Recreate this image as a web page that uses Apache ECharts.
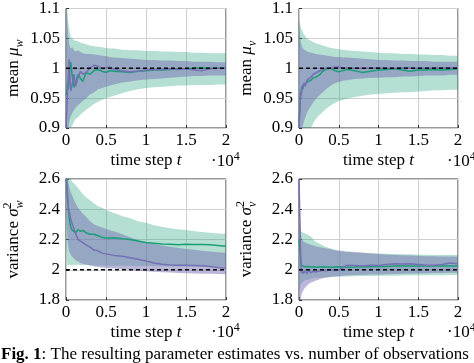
<!DOCTYPE html>
<html><head><meta charset="utf-8">
<script src="https://cdn.jsdelivr.net/npm/echarts@6.0.0/dist/echarts.min.js"></script>
<style>html,body{margin:0;padding:0;background:#fff;overflow:hidden}#c{width:474px;height:363px}</style>
</head><body><div id="c"></div>
<script>
// ---- data ----
const T = [0,100,200,300,400,500,600,800,1000,1200,1500,1800,2100,2500,3000,3500,4000,4500,5000,5500,6000,7000,8000,9000,10000,11000,12000,13000,14000,15000,16000,17000,18000,19000,20000];
const xTickVals = [0, 5000, 10000, 15000, 20000];
const meanTicks = [0.9, 0.95, 1, 1.05, 1.1];
const varTicks = [1.8, 2, 2.2, 2.4, 2.6];
const meanRef = 1, varRef = 2;

// mean mu_w
const muW_green   = [0.955,0.96,0.975,0.965,0.985,1.005,1.01,0.985,0.968,0.975,0.99,0.983,0.978,0.992,0.99,0.996,0.998,0.995,0.993,0.996,0.995,0.994,0.993,0.995,0.996,0.997,0.997,0.998,0.999,0.999,1.0,1.001,1.0,1.0,1.0];
const muW_purple  = [0.9,0.93,0.965,0.99,1.015,0.985,0.962,0.975,0.99,0.97,0.985,0.995,0.99,0.993,1.0,1.005,1.003,0.999,1.001,1.002,0.998,0.996,0.994,0.995,0.997,0.998,0.998,0.999,0.998,0.999,0.997,0.996,0.999,1.0,1.0];
const muW_greenHi = [1.12,1.11,1.09,1.075,1.065,1.058,1.052,1.05,1.047,1.046,1.045,1.043,1.042,1.04,1.038,1.037,1.036,1.035,1.034,1.033,1.033,1.031,1.03,1.03,1.029,1.029,1.028,1.028,1.027,1.027,1.026,1.026,1.025,1.025,1.025];
const muW_greenLo = [0.85,0.86,0.87,0.88,0.89,0.895,0.9,0.905,0.91,0.915,0.918,0.922,0.926,0.93,0.935,0.94,0.944,0.947,0.95,0.952,0.954,0.958,0.962,0.965,0.967,0.968,0.969,0.97,0.971,0.971,0.972,0.972,0.972,0.973,0.973];
const muW_purpleHi = [1.12,1.1,1.07,1.05,1.04,1.035,1.033,1.035,1.03,1.028,1.03,1.027,1.025,1.024,1.024,1.023,1.022,1.021,1.02,1.019,1.018,1.017,1.016,1.015,1.014,1.014,1.013,1.013,1.012,1.012,1.011,1.011,1.011,1.01,1.01];
const muW_purpleLo = [0.85,0.87,0.89,0.9,0.91,0.915,0.92,0.925,0.93,0.934,0.938,0.942,0.945,0.95,0.956,0.96,0.965,0.967,0.969,0.971,0.973,0.976,0.978,0.98,0.981,0.982,0.983,0.984,0.985,0.986,0.987,0.987,0.988,0.988,0.988];

// mean mu_v
const muV_green   = [0.91,0.93,0.955,0.965,0.97,0.968,0.972,0.975,0.973,0.978,0.98,0.984,0.985,0.988,0.995,0.999,1.0,0.996,0.994,0.996,0.998,0.996,0.993,0.995,0.997,0.998,0.999,0.997,0.995,0.997,0.997,0.998,0.997,0.998,0.999];
const muV_purple  = [0.9,0.93,0.96,0.955,0.97,0.965,0.975,0.97,0.98,0.978,0.985,0.99,0.992,0.995,0.998,1.001,1.0,1.002,1.002,1.001,1.001,1.0,1.0,1.0,1.001,1.0,1.0,1.001,1.001,1.0,1.0,1.001,1.001,1.001,1.001];
const muV_greenHi = [1.08,1.075,1.07,1.066,1.063,1.06,1.057,1.054,1.05,1.048,1.046,1.044,1.042,1.04,1.038,1.036,1.034,1.033,1.032,1.031,1.03,1.029,1.028,1.027,1.026,1.025,1.025,1.024,1.024,1.023,1.023,1.022,1.022,1.021,1.021];
const muV_greenLo = [0.83,0.84,0.85,0.86,0.87,0.875,0.88,0.885,0.89,0.895,0.9,0.908,0.915,0.921,0.927,0.933,0.938,0.942,0.945,0.947,0.949,0.952,0.954,0.956,0.957,0.958,0.959,0.96,0.96,0.961,0.962,0.963,0.963,0.964,0.964];
const muV_purpleHi = [1.09,1.06,1.045,1.04,1.035,1.033,1.032,1.03,1.028,1.027,1.026,1.025,1.024,1.023,1.022,1.021,1.02,1.019,1.019,1.018,1.018,1.017,1.016,1.015,1.014,1.014,1.013,1.013,1.012,1.012,1.012,1.011,1.011,1.011,1.011];
const muV_purpleLo = [0.85,0.87,0.88,0.89,0.9,0.905,0.91,0.918,0.925,0.93,0.937,0.943,0.948,0.954,0.96,0.966,0.971,0.975,0.977,0.979,0.98,0.982,0.983,0.984,0.984,0.985,0.985,0.986,0.986,0.987,0.988,0.988,0.988,0.989,0.989];

// variance sigma_w^2
const sW_green   = [2.65,2.58,2.48,2.4,2.35,2.31,2.28,2.26,2.25,2.245,2.265,2.255,2.26,2.245,2.235,2.235,2.225,2.215,2.208,2.21,2.212,2.205,2.2,2.19,2.18,2.175,2.17,2.168,2.166,2.168,2.167,2.167,2.165,2.16,2.155];
const sW_purple  = [2.65,2.55,2.45,2.41,2.38,2.36,2.33,2.3,2.27,2.24,2.2,2.19,2.18,2.165,2.15,2.13,2.125,2.11,2.105,2.1,2.095,2.09,2.08,2.07,2.058,2.045,2.037,2.032,2.03,2.03,2.028,2.026,2.022,2.015,2.01];
const sW_greenHi = [2.7,2.68,2.65,2.63,2.62,2.61,2.6,2.58,2.57,2.56,2.54,2.52,2.5,2.48,2.46,2.44,2.42,2.41,2.395,2.385,2.375,2.355,2.34,2.32,2.31,2.295,2.285,2.275,2.268,2.262,2.255,2.25,2.245,2.24,2.238];
const sW_greenLo = [2.2,2.06,2.03,2.025,2.03,2.035,2.03,2.03,2.035,2.03,2.035,2.03,2.03,2.032,2.03,2.03,2.028,2.028,2.027,2.027,2.026,2.026,2.025,2.025,2.024,2.024,2.023,2.023,2.022,2.022,2.022,2.021,2.021,2.02,2.02];
const sW_purpleHi = [2.7,2.65,2.6,2.57,2.55,2.53,2.51,2.49,2.46,2.44,2.41,2.39,2.37,2.35,2.32,2.3,2.29,2.28,2.27,2.26,2.255,2.235,2.215,2.195,2.18,2.17,2.16,2.152,2.145,2.138,2.132,2.126,2.12,2.116,2.113];
const sW_purpleLo = [2.5,2.3,2.2,2.15,2.12,2.11,2.1,2.085,2.075,2.065,2.055,2.045,2.04,2.035,2.028,2.022,2.018,2.015,2.012,2.01,2.008,2.003,1.998,1.993,1.99,1.987,1.984,1.981,1.979,1.977,1.975,1.974,1.973,1.972,1.971];

// variance sigma_v^2
const sV_green   = [2.2,2.15,2.06,2.03,2.025,2.02,2.02,2.018,2.022,2.02,2.018,2.02,2.016,2.018,2.02,2.018,2.016,2.018,2.02,2.018,2.017,2.018,2.02,2.02,2.022,2.022,2.024,2.025,2.025,2.024,2.025,2.025,2.024,2.025,2.025];
const sV_purple  = [2.6,2.35,2.1,1.98,2.0,1.975,1.965,1.99,1.975,1.995,1.98,1.99,1.985,1.992,1.995,1.995,1.998,1.995,1.997,2.015,2.03,2.028,2.025,2.03,2.028,2.035,2.04,2.038,2.04,2.035,2.03,2.03,2.035,2.045,2.04];
const sV_greenHi = [2.3,2.27,2.26,2.25,2.25,2.245,2.245,2.24,2.235,2.23,2.22,2.2,2.185,2.175,2.16,2.148,2.14,2.13,2.124,2.12,2.117,2.114,2.112,2.11,2.108,2.106,2.104,2.103,2.102,2.1,2.099,2.098,2.098,2.097,2.097];
const sV_greenLo = [1.85,1.88,1.9,1.91,1.915,1.92,1.925,1.93,1.933,1.936,1.94,1.943,1.945,1.947,1.949,1.951,1.952,1.953,1.954,1.955,1.956,1.957,1.958,1.959,1.96,1.96,1.961,1.962,1.962,1.963,1.963,1.964,1.964,1.965,1.965];
const sV_purpleHi = [2.7,2.4,2.25,2.21,2.2,2.19,2.185,2.18,2.175,2.17,2.165,2.16,2.155,2.15,2.145,2.14,2.135,2.13,2.127,2.124,2.121,2.117,2.112,2.108,2.104,2.101,2.098,2.096,2.094,2.092,2.09,2.089,2.088,2.087,2.086];
const sV_purpleLo = [1.7,1.75,1.8,1.83,1.85,1.86,1.87,1.885,1.895,1.905,1.915,1.92,1.928,1.936,1.943,1.948,1.952,1.955,1.958,1.96,1.962,1.965,1.967,1.968,1.969,1.971,1.972,1.974,1.975,1.976,1.977,1.978,1.979,1.98,1.98];

// ---- chart ----
const FONT = 'Liberation Serif';
const GREEN = '#1b9e77', PURPLE = '#7570b3';
const GREEN_BAND = 'rgba(27,158,119,0.33)', PURPLE_BAND = 'rgba(117,112,179,0.5)';

const panels = [
  {grid:{left:66, top:7, width:160, height:121}, ticks:meanTicks, ref:meanRef,
   name:'{n|mean }{it|μ}{sub|w}', g:muW_green, p:muW_purple, gHi:muW_greenHi, gLo:muW_greenLo, pHi:muW_purpleHi, pLo:muW_purpleLo},
  {grid:{left:299, top:7, width:159, height:121}, ticks:meanTicks, ref:meanRef,
   name:'{n|mean }{it|μ}{sub|v}', g:muV_green, p:muV_purple, gHi:muV_greenHi, gLo:muV_greenLo, pHi:muV_purpleHi, pLo:muV_purpleLo},
  {grid:{left:66, top:179, width:160, height:121}, ticks:varTicks, ref:varRef,
   name:'{n|variance }{it|σ}{sup|2}{subs|w}', g:sW_green, p:sW_purple, gHi:sW_greenHi, gLo:sW_greenLo, pHi:sW_purpleHi, pLo:sW_purpleLo},
  {grid:{left:299, top:179, width:159, height:121}, ticks:varTicks, ref:varRef,
   name:'{n|variance }{it|σ}{sup|2}{subs|v}', g:sV_green, p:sV_purple, gHi:sV_greenHi, gLo:sV_greenLo, pHi:sV_purpleHi, pLo:sV_purpleLo}
];

const richName = {
  n:{fontFamily:FONT, fontSize:17, lineHeight:24, color:'#000'},
  it:{fontFamily:FONT, fontSize:17, lineHeight:24, fontStyle:'italic', color:'#000'},
  sub:{fontFamily:FONT, fontSize:12, lineHeight:13, fontStyle:'italic', verticalAlign:'bottom', color:'#000'},
  sup:{fontFamily:FONT, fontSize:12, lineHeight:13, verticalAlign:'top', color:'#000'},
  subs:{fontFamily:FONT, fontSize:12, lineHeight:13, fontStyle:'italic', verticalAlign:'bottom', color:'#000', padding:[0,0,0,-6]}
};

function fmt(v){ return String(+v.toFixed(3)); }

const grid = [], xAxis = [], yAxis = [], series = [];
function bandSeries(i, lo, hi, color){
  return {type:'custom', xAxisIndex:i, yAxisIndex:i, clip:true, silent:true, z:1,
    data:[[T[0], lo[0]]],
    renderItem:function(params, api){
      const pts = [];
      for (let k=0;k<T.length;k++) pts.push(api.coord([T[k], hi[k]]));
      for (let k=T.length-1;k>=0;k--) pts.push(api.coord([T[k], lo[k]]));
      return {type:'polygon', shape:{points:pts}, style:{fill:color, stroke:null}};
    }};
}
function lineSeries(i, vals, color, z){
  return {type:'line', xAxisIndex:i, yAxisIndex:i, data:T.map((t,k)=>[t, vals[k]]), symbol:'none',
    lineStyle:{color:color, width:1.5}, silent:true, z:z};
}
panels.forEach((p,i)=>{
  grid.push(Object.assign({show:true, borderColor:'#333', borderWidth:1, backgroundColor:'transparent', containLabel:false}, p.grid));
  xAxis.push({type:'value', gridIndex:i, min:xTickVals[0], max:xTickVals[xTickVals.length-1], interval:xTickVals[1]-xTickVals[0],
    axisLine:{show:false}, axisTick:{show:true, inside:true, length:3, lineStyle:{color:'#333'}},
    splitLine:{show:true, lineStyle:{color:'#cfcfcf', width:1}},
    axisLabel:{fontFamily:FONT, fontSize:17, color:'#000', margin:4, formatter:v=>fmt(v/10000)},
    name:'{n|time step }{it|t}', nameLocation:'middle', nameGap:24,
    nameTextStyle:{rich:{n:{fontFamily:FONT,fontSize:17,color:'#000'}, it:{fontFamily:FONT,fontSize:17,fontStyle:'italic',color:'#000'}}}
  });
  yAxis.push({type:'value', gridIndex:i, min:p.ticks[0], max:p.ticks[p.ticks.length-1], interval:p.ticks[1]-p.ticks[0],
    axisLine:{show:false}, axisTick:{show:true, inside:true, length:3, lineStyle:{color:'#333'}},
    splitLine:{show:true, lineStyle:{color:'#cfcfcf', width:1}},
    axisLabel:{fontFamily:FONT, fontSize:17, color:'#000', margin:6, formatter:fmt},
    name:p.name, nameLocation:'middle', nameGap:40, nameRotate:90,
    nameTextStyle:{rich:richName}
  });
  series.push(bandSeries(i, p.gLo, p.gHi, GREEN_BAND));
  series.push(bandSeries(i, p.pLo, p.pHi, PURPLE_BAND));
  series.push(lineSeries(i, p.g, GREEN, 3));
  series.push(lineSeries(i, p.p, PURPLE, 4));
  series.push({type:'line', xAxisIndex:i, yAxisIndex:i, symbol:'none', silent:true, z:5,
    data:[[xTickVals[0], p.ref],[xTickVals[xTickVals.length-1], p.ref]],
    lineStyle:{color:'#000', width:1.5, type:[4,3]}});
});

const expRich = {n:{fontFamily:FONT,fontSize:17,lineHeight:22,color:'#000'}, sup:{fontFamily:FONT,fontSize:12,lineHeight:13,verticalAlign:'top',color:'#000'}};
const graphic = [
  {type:'text', left:211, top:151, style:{text:'{n|·10}{sup|4}', rich:expRich}},
  {type:'text', left:447, top:151, style:{text:'{n|·10}{sup|4}', rich:expRich}},
  {type:'text', left:211, top:322, style:{text:'{n|·10}{sup|4}', rich:expRich}},
  {type:'text', left:447, top:322, style:{text:'{n|·10}{sup|4}', rich:expRich}},
  {type:'text', left:1, top:346, style:{text:'{b|Fig. 1}{n|: The resulting parameter estimates vs. number of observations}',
    rich:{b:{fontFamily:'Liberation Serif',fontSize:17,fontWeight:'bold',color:'#000'}, n:{fontFamily:'Liberation Serif',fontSize:17,color:'#000'}}}}
];

const chart = echarts.init(document.getElementById('c'), null, {renderer:'canvas'});
chart.setOption({animation:false, backgroundColor:'#fff', grid, xAxis, yAxis, series, graphic});
</script></body></html>
